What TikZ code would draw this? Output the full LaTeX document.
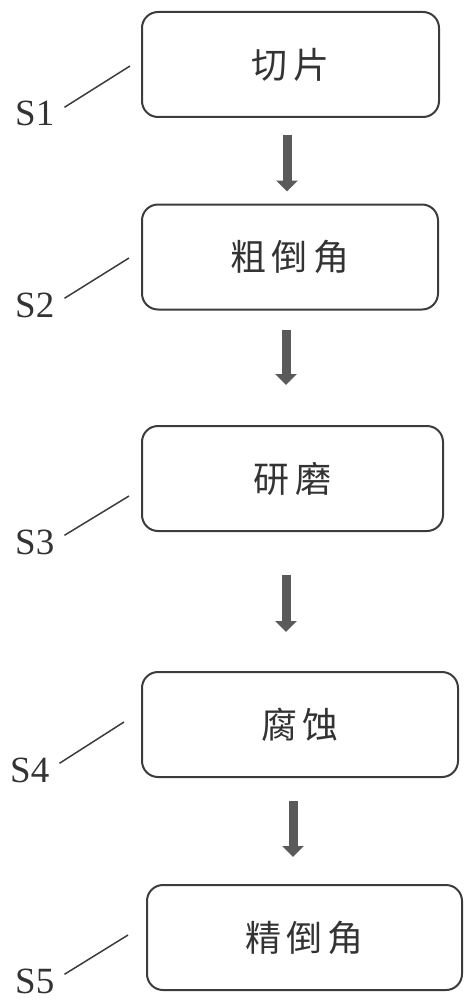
\documentclass[tikz,border=0pt]{standalone}
\usepackage{fontspec}
\setmainfont{Liberation Serif}
\newfontfamily\cjk{Noto Sans CJK SC}[LetterSpace=15]
\usetikzlibrary{arrows.meta}
\definecolor{ink}{HTML}{333333}
\definecolor{frame}{HTML}{3C3C3C}
\definecolor{arrowgr}{HTML}{5A5A5A}

\begin{document}
\begin{tikzpicture}[x=1pt,y=-1pt,
  stepbox/.style={draw=frame,line width=2pt,rounded corners=16pt,minimum height=105pt,
                  inner sep=0pt,outer sep=0pt,text=ink,font=\cjk\fontsize{36}{40}\selectfont},
  steplabel/.style={anchor=base west,inner sep=0pt,text=ink,font=\fontsize{37}{40}\selectfont},
  leadline/.style={draw=frame,line width=1.5pt},
  flowarrow/.style={draw=arrowgr,line width=9pt,-{Triangle[width=21pt,length=11pt]}}]
  \useasboundingbox (0,0) rectangle (474,1006);
  % process boxes
  \foreach \i/\cx/\cy/\w/\txt in {1/290.5/64.5/297/切片, 2/290/257/296/粗倒角,
      3/292.5/478.5/301/研磨, 4/300/724.5/316/腐蚀, 5/304.5/937.5/315/精倒角}
    \node[stepbox,minimum width=\w pt] (step\i) at (\cx,\cy) {\txt};
  % step labels with lead lines
  \foreach \i/\lx/\ly/\tx/\ty in {1/15/126/130/66, 2/15/317/129/258, 3/15/554/129/496,
      4/10/782/124/722, 5/15/993/128/935}{
    \node[steplabel] (lab\i) at (\lx,\ly) {S\i};
    \coordinate (tip\i) at (\tx,\ty);
    \draw[leadline] ([xshift=10pt,yshift=-6pt]lab\i.north east) -- (tip\i);}
  % arrows between steps
  \foreach \i/\j/\ax/\ga/\gb in {1/2/287/18/13, 2/3/286/20/41, 3/4/286/44/40, 4/5/293/24/28}
    \draw[flowarrow,shorten <=\ga pt,shorten >=\gb pt] (step\i.south -| \ax,0) -- (step\j.north -| \ax,0);
\end{tikzpicture}
\end{document}
